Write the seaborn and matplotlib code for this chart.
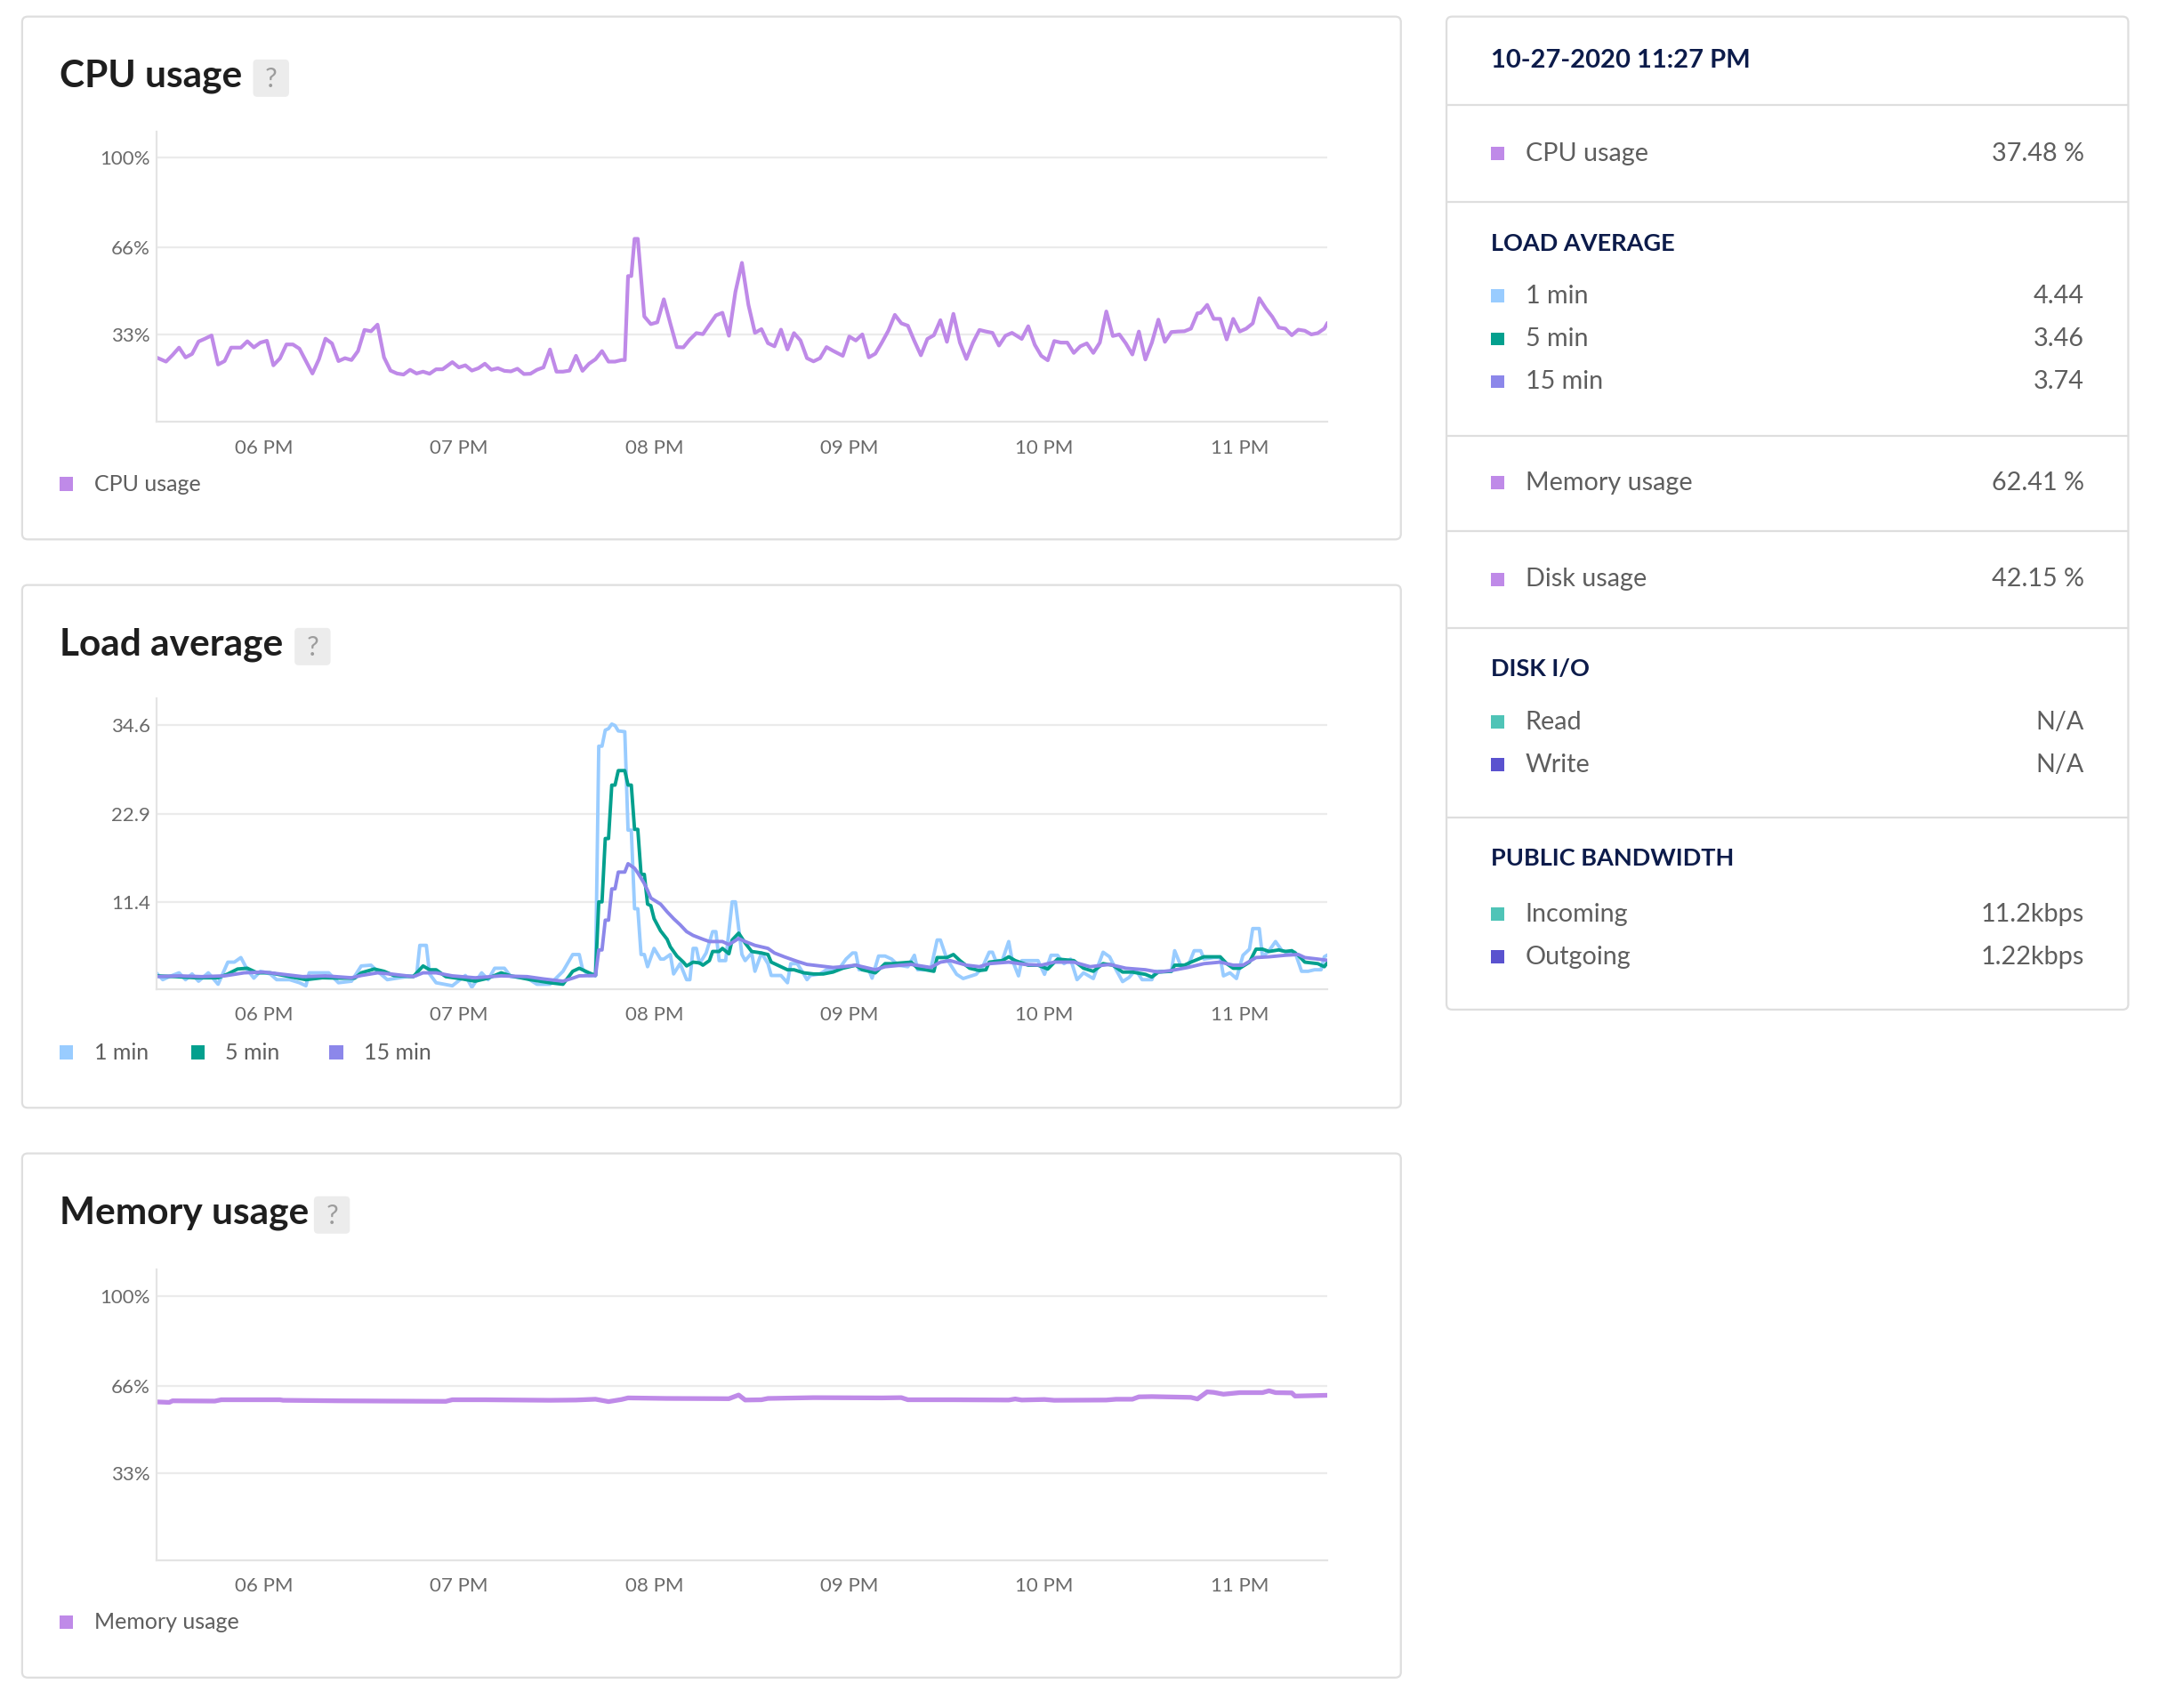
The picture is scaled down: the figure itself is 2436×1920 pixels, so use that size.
import matplotlib
matplotlib.use("Agg")
import matplotlib.pyplot as plt
import matplotlib.dates as mdates
from matplotlib.patches import FancyBboxPatch, Rectangle
import pandas as pd
import seaborn as sns

# time axis: minutes after 17:27 on 10-27-2020, six hours of samples
START = pd.Timestamp("2020-10-27 17:27")
END = START + pd.Timedelta(minutes=360)

cpu_minutes = [0, 3, 5, 7, 9, 11, 13, 15, 17, 19, 21, 23, 26, 28, 30, 32, 34, 36, 38, 40,
               42, 44, 46, 48, 50, 52, 54, 56, 58, 60, 62, 64, 66, 68, 70, 72, 74, 76, 78, 80,
               82, 84, 86, 88, 91, 93, 95, 97, 99, 101, 103, 105, 107, 109, 111, 113, 115, 117, 119, 121,
               123, 125, 127, 129, 131, 133, 135, 137, 139, 141, 143, 144, 145, 146, 147, 148, 150, 152, 154, 156,
               158, 160, 162, 164, 166, 168, 170, 172, 174, 176, 178, 180, 182, 184, 186, 188, 190, 192, 194, 196,
               198, 200, 202, 204, 206, 208, 211, 213, 215, 217, 219, 221, 223, 225, 227, 229, 231, 233, 235, 237,
               239, 241, 243, 245, 247, 249, 251, 253, 255, 257, 259, 261, 263, 266, 268, 270, 272, 274, 276, 278,
               280, 282, 284, 286, 288, 290, 292, 294, 296, 298, 300, 302, 304, 306, 308, 310, 312, 314, 316, 318,
               320, 321, 323, 325, 327, 329, 331, 333, 335, 337, 339, 341, 343, 345, 347, 349, 351, 353, 355, 357,
               359, 360]
cpu_pct = [24.4, 22.8, 25.3, 28.1, 24.4, 25.7, 30.4, 31.5, 32.7, 21.7, 23.0, 28.1, 28.1, 30.5, 28.2, 30.0, 30.7, 21.4, 24.0, 29.3,
           29.3, 27.7, 23.0, 18.3, 23.7, 31.5, 29.7, 23.0, 24.1, 23.4, 26.8, 34.8, 34.3, 36.8, 24.4, 19.4, 18.3, 17.9, 19.7, 18.3,
           19.0, 18.2, 19.9, 19.9, 22.6, 20.6, 21.4, 19.4, 20.3, 22.0, 19.7, 20.3, 19.3, 19.1, 20.1, 18.1, 18.2, 19.7, 20.6, 27.4,
           19.0, 19.0, 19.4, 25.0, 19.3, 22.0, 23.7, 26.8, 22.8, 22.8, 23.4, 23.4, 55.2, 55.2, 69.3, 69.3, 39.9, 37.0, 37.7, 46.4,
           37.2, 28.3, 28.2, 31.2, 33.6, 33.2, 36.8, 40.3, 41.3, 32.6, 49.2, 60.2, 44.3, 33.7, 35.1, 29.8, 28.6, 34.9, 27.4, 33.6,
           30.8, 24.1, 22.9, 24.1, 28.3, 26.9, 25.0, 32.3, 30.8, 33.1, 24.4, 25.8, 30.0, 34.5, 40.5, 37.3, 36.4, 30.6, 25.2, 31.4,
           32.8, 38.5, 30.3, 40.9, 30.0, 23.8, 30.0, 34.8, 34.2, 33.7, 28.9, 32.6, 33.7, 31.4, 36.2, 29.2, 25.0, 23.3, 30.6, 30.0,
           30.0, 26.1, 28.6, 29.7, 26.1, 30.0, 41.8, 32.5, 33.1, 29.7, 25.5, 34.2, 23.6, 30.0, 38.7, 30.3, 34.0, 34.2, 34.3, 35.3,
           41.1, 41.3, 44.3, 39.0, 39.0, 31.2, 39.0, 34.2, 35.3, 37.3, 46.8, 43.0, 39.8, 35.7, 35.3, 32.8, 34.9, 34.5, 33.1, 33.6,
           35.3, 37.5]

load1_minutes = [0, 2, 4, 7, 9, 11, 13, 16, 19, 22, 24, 26, 28, 30, 32, 35, 37, 41, 44, 46,
                 47, 51, 53, 56, 60, 63, 66, 68, 71, 74, 77, 80, 81, 83, 84, 86, 91, 95, 97, 100,
                 102, 104, 107, 109, 114, 117, 121, 125, 128, 130, 131, 133, 135, 136, 137, 138, 139, 140, 141, 142,
                 144, 145, 146, 147, 148, 149, 150, 151, 153, 155, 156, 158, 159, 161, 163, 164, 165, 166, 167, 169,
                 171, 172, 173, 175, 177, 178, 180, 181, 183, 184, 186, 188, 189, 192, 194, 195, 197, 199, 200, 201,
                 204, 206, 208, 210, 212, 214, 215, 216, 219, 220, 222, 224, 226, 228, 231, 233, 234, 238, 240, 241,
                 243, 246, 248, 252, 254, 256, 257, 258, 260, 262, 263, 265, 266, 269, 271, 273, 275, 277, 279, 281,
                 283, 285, 288, 289, 291, 293, 295, 297, 299, 301, 303, 306, 307, 310, 312, 313, 315, 317, 319, 321,
                 322, 325, 327, 328, 330, 332, 334, 336, 337, 339, 340, 342, 344, 346, 348, 350, 352, 354, 356, 358,
                 359, 360]
load1 = [2.1, 1.2, 1.6, 2.1, 1.2, 1.95, 1.0, 2.1, 0.6, 3.5, 3.5, 4.1, 2.5, 1.4, 2.3, 1.95, 1.2, 1.2, 0.8, 0.4,
         2.1, 2.1, 2.1, 0.8, 1.0, 3.0, 3.1, 2.3, 1.2, 1.4, 1.6, 1.75, 5.7, 5.7, 1.95, 0.8, 0.4, 1.75, 0.2, 2.1,
         1.2, 2.7, 2.7, 1.6, 1.4, 0.6, 0.6, 2.3, 4.5, 4.5, 2.6, 1.75, 1.75, 31.8, 31.8, 33.9, 34.1, 34.7, 34.5, 33.8,
         33.7, 20.8, 20.8, 10.5, 10.5, 4.5, 4.5, 2.9, 5.3, 3.9, 3.9, 4.5, 1.95, 3.3, 1.2, 1.2, 5.3, 5.3, 3.3, 4.7,
         7.5, 7.5, 3.7, 3.7, 11.4, 11.4, 4.5, 3.7, 4.7, 2.3, 4.7, 3.3, 1.75, 1.75, 0.8, 3.3, 3.3, 1.95, 1.2, 1.75,
         1.95, 2.5, 2.5, 2.7, 3.9, 4.7, 4.7, 2.5, 2.5, 1.4, 4.3, 4.3, 3.9, 3.1, 2.9, 4.4, 2.5, 2.5, 6.4, 6.4,
         3.9, 1.9, 1.35, 1.9, 2.9, 4.8, 4.8, 3.7, 3.7, 6.2, 3.9, 1.7, 3.7, 3.7, 3.7, 1.9, 4.4, 4.4, 3.3, 3.9,
         1.2, 2.1, 1.35, 2.5, 4.8, 4.2, 2.5, 0.95, 1.5, 2.5, 1.2, 1.2, 2.3, 2.3, 2.3, 5.0, 2.9, 2.9, 5.0, 5.0,
         3.9, 4.1, 4.1, 1.7, 2.1, 1.35, 4.4, 5.2, 7.9, 7.9, 4.2, 5.0, 6.2, 5.0, 4.8, 4.8, 2.3, 2.3, 2.5, 2.5,
         4.2, 4.44]

load5_minutes = [0, 6, 12, 19, 22, 25, 28, 31, 35, 41, 46, 51, 57, 61, 63, 67, 70, 73, 79, 82,
                 84, 86, 89, 94, 98, 102, 106, 109, 115, 121, 125, 128, 130, 133, 135, 136, 137, 138, 139, 140,
                 141, 142, 144, 145, 146, 147, 148, 149, 150, 151, 152, 153, 155, 157, 158, 160, 162, 163, 165, 167,
                 168, 170, 171, 173, 174, 176, 177, 179, 181, 183, 186, 188, 189, 191, 194, 196, 199, 202, 205, 208,
                 211, 215, 217, 221, 224, 226, 232, 234, 239, 240, 243, 245, 247, 250, 253, 255, 256, 260, 262, 264,
                 268, 271, 274, 277, 282, 285, 288, 291, 294, 297, 300, 304, 306, 308, 312, 313, 316, 318, 322, 327,
                 329, 331, 333, 336, 338, 340, 342, 345, 347, 349, 351, 353, 357, 359, 360]
load5 = [1.7, 1.6, 1.45, 1.45, 1.95, 2.6, 2.7, 2.1, 2.1, 1.6, 1.2, 1.45, 1.4, 1.4, 2.1, 2.6, 2.3, 1.75, 1.6, 3.0,
         2.5, 2.5, 1.6, 1.3, 1.0, 1.4, 2.1, 1.7, 1.2, 0.8, 0.6, 2.3, 2.7, 2.1, 1.75, 11.4, 11.4, 19.7, 19.7, 26.7,
         26.7, 28.6, 28.6, 26.7, 26.7, 20.9, 20.9, 15.0, 15.0, 11.1, 10.9, 9.2, 7.6, 6.5, 5.5, 4.3, 3.5, 3.0, 3.5, 3.4,
         3.1, 3.7, 4.9, 4.9, 5.3, 4.6, 6.4, 7.3, 6.0, 4.9, 4.7, 4.5, 3.5, 3.1, 2.5, 2.5, 2.1, 1.95, 1.95, 2.2,
         2.7, 3.1, 2.5, 2.1, 3.3, 3.3, 3.5, 2.7, 2.3, 4.1, 4.1, 4.5, 3.7, 2.7, 2.4, 2.5, 3.5, 3.7, 4.2, 3.7,
         3.1, 3.1, 2.6, 3.9, 3.7, 2.7, 2.3, 3.3, 3.1, 2.2, 2.2, 1.9, 1.55, 2.2, 2.3, 3.1, 3.1, 3.5, 4.2, 4.2,
         3.3, 2.7, 2.7, 3.5, 5.2, 5.2, 4.9, 5.1, 4.9, 5.0, 4.4, 3.5, 3.3, 2.9, 3.46]

load15_minutes = [0, 7, 14, 21, 27, 33, 38, 45, 52, 60, 63, 68, 72, 79, 82, 86, 91, 98, 106, 114,
                  119, 125, 128, 130, 135, 136, 137, 138, 139, 140, 141, 142, 144, 145, 147, 148, 150, 151, 152, 155,
                  157, 159, 161, 163, 165, 168, 170, 174, 176, 179, 181, 184, 188, 190, 193, 197, 200, 204, 208, 211,
                  215, 218, 221, 224, 229, 232, 238, 241, 244, 249, 253, 256, 262, 267, 272, 276, 282, 287, 293, 298,
                  304, 308, 312, 317, 322, 327, 331, 334, 338, 342, 347, 351, 353, 357, 360]
load15 = [1.6, 1.7, 1.6, 1.7, 2.1, 2.2, 1.95, 1.6, 1.7, 1.45, 1.75, 2.1, 1.95, 1.6, 2.1, 2.1, 1.7, 1.45, 1.7, 1.6,
          1.3, 1.0, 1.4, 1.7, 1.75, 5.1, 5.1, 9.0, 9.0, 13.1, 13.1, 15.3, 15.3, 16.4, 15.8, 15.2, 13.8, 12.9, 11.9, 11.1,
          10.1, 9.2, 8.4, 7.5, 7.0, 6.5, 6.2, 6.2, 5.8, 6.6, 6.2, 5.7, 5.3, 4.7, 4.2, 3.6, 3.2, 3.0, 2.8, 2.9,
          3.1, 2.8, 2.5, 2.9, 3.1, 3.2, 2.8, 3.5, 3.7, 3.1, 2.9, 3.3, 3.5, 3.2, 3.1, 3.5, 3.5, 2.9, 3.2, 2.7,
          2.5, 2.2, 2.4, 2.8, 3.3, 3.5, 3.1, 3.1, 4.1, 4.2, 4.4, 4.5, 4.1, 3.9, 3.74]

mem_minutes = [0, 4, 5, 18, 20, 38, 39, 56, 71, 89, 91, 101, 121, 129, 135, 139, 143, 145, 157, 176,
               179, 181, 186, 188, 202, 223, 229, 231, 245, 262, 264, 266, 273, 276, 292, 295, 300, 302, 306, 318,
               320, 323, 325, 328, 333, 340, 342, 344, 349, 350, 360]
mem_pct = [59.9, 59.7, 60.3, 60.2, 60.7, 60.7, 60.5, 60.3, 60.2, 60.1, 60.7, 60.7, 60.5, 60.6, 60.9, 60.0, 60.8, 61.4, 61.2, 61.1,
           62.5, 60.6, 60.7, 61.2, 61.5, 61.4, 61.5, 60.7, 60.7, 60.6, 61.0, 60.6, 60.8, 60.5, 60.6, 60.9, 60.9, 61.8, 61.9, 61.6,
           61.0, 63.7, 63.5, 62.8, 63.4, 63.4, 64.1, 63.4, 63.3, 62.1, 62.4]

# sidebar snapshot at 11:27 PM
snapshot_time = "10-27-2020 11:27 PM"
sidebar_sections = ["", "LOAD AVERAGE", "", "", "DISK I/O", "PUBLIC BANDWIDTH"]
sidebar_labels = [["CPU usage"], ["1 min", "5 min", "15 min"], ["Memory usage"], ["Disk usage"],
                  ["Read", "Write"], ["Incoming", "Outgoing"]]
sidebar_values = [["37.48 %"], ["4.44", "3.46", "3.74"], ["62.41 %"], ["42.15 %"],
                  ["N/A", "N/A"], ["11.2kbps", "1.22kbps"]]

PURPLE = "#bf8ae8"
LIGHT_BLUE = "#99ccff"
TEAL = "#03a08e"
LAVENDER = "#8c87ea"
MINT = "#4fc4b7"
INDIGO = "#5a52cf"
sidebar_colors = [[PURPLE], [LIGHT_BLUE, TEAL, LAVENDER], [PURPLE], [PURPLE], [MINT, INDIGO], [MINT, INDIGO]]

NAVY = "#0c1b4a"
TEXT = "#5e5e5e"
TICK_TEXT = "#6a6a6a"
EDGE = "#dedede"
GRID = "#ebebeb"

W, H = 1567.0, 1235.0   # layout is measured in screen pixels of this size

sns.set_theme(style="white")
plt.rcParams["font.family"] = ["Lato", "DejaVu Sans"]

fig = plt.figure(figsize=(24.36, 19.2), dpi=100)
fig.patch.set_facecolor("white")
bg = fig.add_axes([0, 0, 1, 1], zorder=0)
bg.set_xlim(0, W)
bg.set_ylim(H, 0)
bg.axis("off")


def box(x0, y0, x1, y1, fc="white", ec=EDGE, r=4, lw=1.6):
    bg.add_patch(FancyBboxPatch((x0, y0), x1 - x0, y1 - y0,
                                boxstyle=f"round,pad=0,rounding_size={r}",
                                fc=fc, ec=ec, lw=lw))


def square(x, y, color, s=10):
    bg.add_patch(Rectangle((x, y - s / 2), s, s, fc=color, ec="none"))


def chart_axes(left, top, right, bottom):
    ax = fig.add_axes([left / W, 1 - bottom / H, (right - left) / W, (bottom - top) / H], zorder=2)
    ax.patch.set_alpha(0)
    return ax


def to_frame(minutes, values):
    return pd.DataFrame({"time": START + pd.to_timedelta(minutes, unit="m"), "value": values})


def style_chart(ax, ymax, ticks, labels):
    ax.set_xlim(START, END)
    ax.set_ylim(0, ymax)
    ax.set_yticks(ticks)
    ax.set_yticklabels(labels)
    ax.yaxis.grid(True, color=GRID, lw=1.6)
    ax.xaxis.grid(False)
    ax.set_axisbelow(True)
    for side in ["top", "right"]:
        ax.spines[side].set_visible(False)
    for side in ["left", "bottom"]:
        ax.spines[side].set_color("#e4e4e4")
        ax.spines[side].set_linewidth(1.6)
    ax.set_xticks(list(pd.date_range("2020-10-27 18:00", periods=6, freq="h")))
    ax.set_xticks([START, END], minor=True)
    ax.xaxis.set_major_formatter(mdates.DateFormatter("%I %p"))
    ax.tick_params(axis="x", which="both", length=9, width=1.6, color="#e0e0e0",
                   labelsize=16, labelcolor=TICK_TEXT, pad=5)
    ax.tick_params(axis="y", length=0, labelsize=16, labelcolor=TICK_TEXT, pad=5)
    ax.set_xlabel("")
    ax.set_ylabel("")


def panel(y0, y1, title, badge_x):
    box(16, y0, 1013, y1)
    bg.text(43, y0 + 43, title, fontsize=30.5, fontweight="bold", color="#1e1e1e", va="center")
    box(badge_x, y0 + 31, badge_x + 26, y0 + 58, fc="#ececec", ec="none", r=3)
    bg.text(badge_x + 13, y0 + 45, "?", fontsize=22, color="#9c9c9c", ha="center", va="center")


# CPU usage
panel(12, 390, "CPU usage", 183)
ax = chart_axes(113, 95, 960, 305)
sns.lineplot(data=to_frame(cpu_minutes, cpu_pct), x="time", y="value", ax=ax,
             color=PURPLE, lw=3.0, estimator=None)
style_chart(ax, 110, [33, 66, 100], ["33%", "66%", "100%"])
square(43, 350, PURPLE)
bg.text(68, 350, "CPU usage", fontsize=18, color=TEXT, va="center")

# Load average
panel(423, 801, "Load average", 213)
ax = chart_axes(113, 505, 960, 715)
for mins, vals, color in [(load1_minutes, load1, LIGHT_BLUE),
                          (load5_minutes, load5, TEAL),
                          (load15_minutes, load15, LAVENDER)]:
    sns.lineplot(data=to_frame(mins, vals), x="time", y="value", ax=ax,
                 color=color, lw=2.8, estimator=None)
style_chart(ax, 38.06, [11.4, 22.9, 34.6], ["11.4", "22.9", "34.6"])
for x, label, color in [(43, "1 min", LIGHT_BLUE), (138, "5 min", TEAL), (238, "15 min", LAVENDER)]:
    square(x, 761, color)
    bg.text(x + 25, 761, label, fontsize=18, color=TEXT, va="center")

# Memory usage
panel(834, 1213, "Memory usage", 227)
ax = chart_axes(113, 918, 960, 1128)
sns.lineplot(data=to_frame(mem_minutes, mem_pct), x="time", y="value", ax=ax,
             color=PURPLE, lw=3.8, estimator=None)
style_chart(ax, 110, [33, 66, 100], ["33%", "66%", "100%"])
square(43, 1173, PURPLE)
bg.text(68, 1173, "Memory usage", fontsize=18, color=TEXT, va="center")

# sidebar
box(1046, 12, 1539, 730)
bg.text(1078, 44, snapshot_time, fontsize=21, fontweight="bold", color=NAVY, va="center")
separators = [76, 146, 315, 384, 454, 591]
section_heads = [None, 176, None, None, 484, 621]
row_ys = [[111], [214, 245, 276], [349], [419], [522, 553], [661, 692]]
for i, sep in enumerate(separators):
    bg.plot([1046, 1539], [sep, sep], color=EDGE, lw=1.6)
    if section_heads[i] is not None:
        bg.text(1078, section_heads[i], sidebar_sections[i], fontsize=19.5, fontweight="bold",
                color=NAVY, va="center")
    for y, label, value, color in zip(row_ys[i], sidebar_labels[i], sidebar_values[i], sidebar_colors[i]):
        square(1078, y, color, s=9.5)
        bg.text(1103, y, label, fontsize=20.7, color=TEXT, va="center")
        bg.text(1507, y, value, fontsize=20.7, color=TEXT, va="center", ha="right")

fig.savefig("out.png", dpi=100, facecolor="white")
